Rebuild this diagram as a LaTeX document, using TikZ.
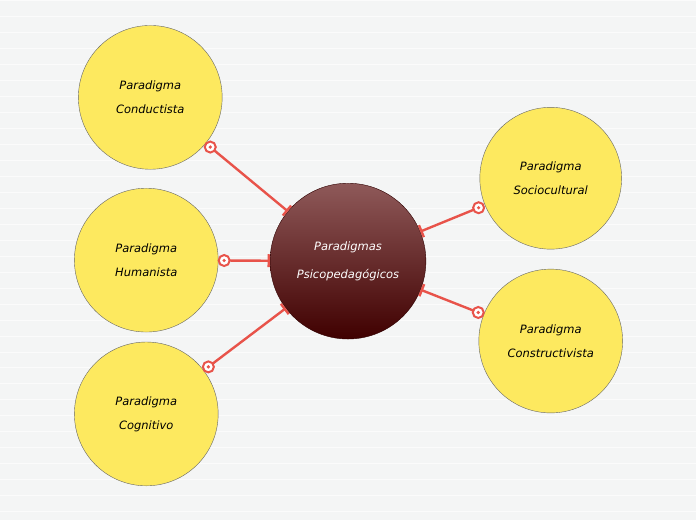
\documentclass[tikz,border=0pt]{standalone}
\usepackage{fontspec}
\setmainfont{DejaVu Sans}
\usetikzlibrary{arrows.meta,calc}
\definecolor{ylw}{HTML}{FDE95F}
\definecolor{lnk}{HTML}{E8534A}
\definecolor{bg}{HTML}{F4F5F5}
\begin{document}
\begin{tikzpicture}[x=1pt,y=-1pt,
  leaf/.style={circle,draw=gray!80!black,fill=ylw,minimum size=144pt,inner sep=0pt,align=center,font=\itshape\fontsize{11.5}{24}\selectfont},
  hub/.style={circle,draw=black!70!red!60!black,top color=black!30!red!30!gray,bottom color=black!75!red,minimum size=156pt,inner sep=0pt,align=center,text=white,font=\itshape\fontsize{11.5}{28}\selectfont},
  mk/.style={circle,draw=lnk,fill=white,line width=2pt,minimum size=11pt,inner sep=0pt,path picture={\fill[lnk] (path picture bounding box.center) circle (1.8pt);}},
  lk/.style={draw=lnk,line width=2.4pt,-{Bar[width=13pt,line width=2.4pt]}}]
\fill[bg] (0,0) rectangle (696,520);
\foreach \y in {0,16,...,520}{\draw[white!60!bg,line width=1pt] (0,\y) -- (696,\y);}
\node[hub] (c) at (348,261) {Paradigmas\\Psicopedagógicos};
\node[leaf] (a) at (150,97) {Paradigma\\Conductista};
\node[leaf] (h) at (146,260) {Paradigma\\Humanista};
\node[leaf] (g) at (146,414) {Paradigma\\Cognitivo};
\node[leaf,minimum size=142pt] (s) at (551,178) {Paradigma\\Sociocultural};
\node[leaf] (k) at (551,341) {Paradigma\\Constructivista};
\foreach \n in {a,h,g,s,k}{
  \coordinate (\n1) at ($(\n)!78pt!(c)$);
  \draw[lk] (\n1) -- (c);
  \node[mk] at (\n1) {};}
\end{tikzpicture}
\end{document}
